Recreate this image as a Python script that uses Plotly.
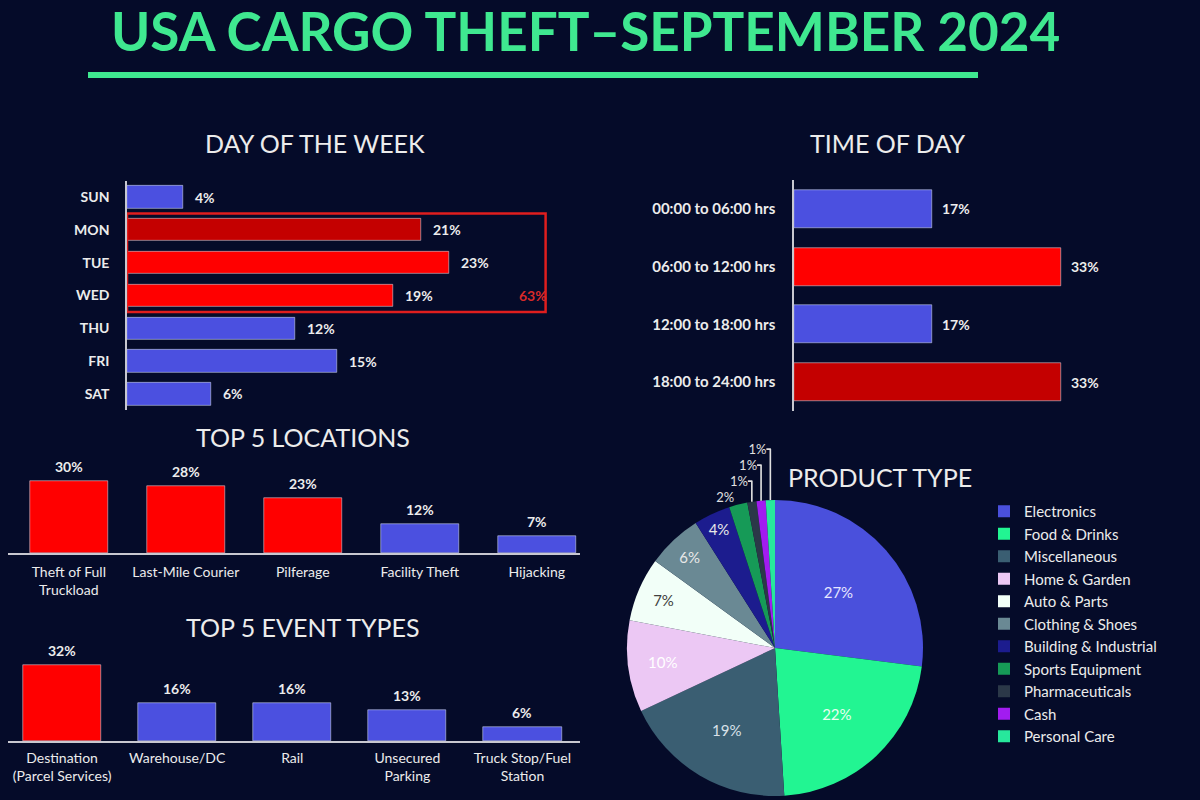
import plotly.graph_objects as go

W, H = 1200, 800

# ---------------- data ----------------
days = ["SUN", "MON", "TUE", "WED", "THU", "FRI", "SAT"]
day_vals = [4, 21, 23, 19, 12, 15, 6]

times = ["00:00 to 06:00 hrs", "06:00 to 12:00 hrs", "12:00 to 18:00 hrs", "18:00 to 24:00 hrs"]
time_vals = [17, 33, 17, 33]

locations = ["Theft of Full<br>Truckload", "Last-Mile Courier", "Pilferage", "Facility Theft", "Hijacking"]
loc_vals = [30, 28, 23, 12, 7]

events = ["Destination<br>(Parcel Services)", "Warehouse/DC", "Rail", "Unsecured<br>Parking", "Truck Stop/Fuel<br>Station"]
event_vals = [32, 16, 16, 13, 6]

products = ["Electronics", "Food & Drinks", "Miscellaneous", "Home & Garden", "Auto & Parts",
            "Clothing & Shoes", "Building & Industrial", "Sports Equipment", "Pharmaceuticals",
            "Cash", "Personal Care"]
product_vals = [27, 22, 19, 10, 7, 6, 4, 2, 1, 1, 1]

# ---------------- styles ----------------
BG = "#050b29"
BLUE = "#4b50e0"
RED = "#ff0000"
DRED = "#c40000"
GREEN = "#3fe890"
TXT = "#ececec"
FONT = "Lato"

day_colors = [BLUE, DRED, RED, RED, BLUE, BLUE, BLUE]
time_colors = [BLUE, RED, BLUE, DRED]
loc_colors = [RED, RED, RED, BLUE, BLUE]
event_colors = [RED, BLUE, BLUE, BLUE, BLUE]
product_colors = ["#4a50dc", "#22f592", "#3a5e72", "#ecc8f4", "#f2fff8", "#6a8994",
                  "#1c1c8e", "#169a57", "#2b3848", "#a21cf0", "#27e89c"]
product_text_colors = ["#e6e6ff", "#e8fff0", "#d8e0e8", "#ffffff", "#404040", "#e8e8e8",
                       "#e8e8e8", "#e8e8e8", "#e8e8e8", "#e8e8e8", "#e8e8e8"]
product_textpos = ["inside"] * 7 + ["outside"] * 4


def px(x):
    return x / W


def py(y):
    return 1 - y / H


fig = go.Figure()

fig.add_trace(go.Bar(x=day_vals, y=days, orientation="h", marker_color=day_colors,
                     width=0.68, xaxis="x", yaxis="y", hoverinfo="skip", showlegend=False))
fig.add_trace(go.Bar(x=time_vals, y=times, orientation="h", marker_color=time_colors,
                     width=0.66, xaxis="x2", yaxis="y2", hoverinfo="skip", showlegend=False))
fig.add_trace(go.Bar(x=locations, y=loc_vals, marker_color=loc_colors,
                     width=0.67, xaxis="x3", yaxis="y3", hoverinfo="skip", showlegend=False))
fig.add_trace(go.Bar(x=events, y=event_vals, marker_color=event_colors,
                     width=0.68, xaxis="x4", yaxis="y4", hoverinfo="skip", showlegend=False))

fig.add_trace(go.Pie(labels=products, values=product_vals, sort=False, direction="clockwise",
                     rotation=0, marker=dict(colors=product_colors, line=dict(width=0)),
                     text=[f"{v}%" for v in product_vals], textinfo="text",
                     textposition=product_textpos, insidetextorientation="horizontal",
                     textfont=dict(family=FONT, size=15, color=product_text_colors),
                     outsidetextfont=dict(family=FONT, size=13, color="#e0e0e0"),
                     domain=dict(x=[px(775 - 148), px(775 + 148)], y=[py(796), py(500)]),
                     hoverinfo="skip", showlegend=True))

annotations = []
lab_font = dict(family=FONT, size=14, color=TXT, weight="bold")
for d, v in zip(days, day_vals):
    annotations.append(dict(x=v, y=d, xref="x", yref="y", text=f"{v}%", showarrow=False,
                            xanchor="left", yanchor="middle", xshift=10, font=lab_font))
for t, v in zip(times, time_vals):
    annotations.append(dict(x=v, y=t, xref="x2", yref="y2", text=f"{v}%", showarrow=False,
                            xanchor="left", yanchor="middle", xshift=8, font=lab_font))
for c, v in zip(locations, loc_vals):
    annotations.append(dict(x=c, y=v, xref="x3", yref="y3", text=f"{v}%", showarrow=False,
                            xanchor="center", yanchor="bottom", yshift=4, font=lab_font))
for c, v in zip(events, event_vals):
    annotations.append(dict(x=c, y=v, xref="x4", yref="y4", text=f"{v}%", showarrow=False,
                            xanchor="center", yanchor="bottom", yshift=4, font=lab_font))

annotations.append(dict(x=29.9, y=days[3], xref="x", yref="y", text=f"<b>{sum(day_vals[1:4])}%</b>",
                        showarrow=False, xanchor="center", yanchor="middle", xshift=-13,
                        font=dict(family=FONT, size=14, color="#d82a2a")))

annotations.append(dict(x=px(585), y=py(31), xref="paper", yref="paper",
                        xanchor="center", yanchor="middle",
                        text="<b>USA CARGO THEFT–SEPTEMBER 2024</b>", showarrow=False,
                        font=dict(family=FONT, size=53, color=GREEN)))
for txt, x, y in [("DAY OF THE WEEK", 315, 143), ("TIME OF DAY", 887, 143),
                  ("TOP 5 LOCATIONS", 303, 437), ("TOP 5 EVENT TYPES", 303, 627),
                  ("PRODUCT TYPE", 880, 477)]:
    annotations.append(dict(x=px(x), y=py(y), xref="paper", yref="paper", text=txt,
                            xanchor="center", yanchor="middle",
                            showarrow=False, font=dict(family=FONT, size=25, color=TXT)))

shapes = [
    dict(type="line", xref="paper", yref="paper", x0=px(88), x1=px(978), y0=py(75), y1=py(75),
         line=dict(color=GREEN, width=6)),
    dict(type="rect", xref="x", yref="y", x0=0, x1=29.9, y0=0.5, y1=3.5,
         line=dict(color="#e01e1e", width=2.5)),
]

hidden = dict(showgrid=False, zeroline=False, showticklabels=False, showline=False, fixedrange=True)
axline = "#c8c8d0"

fig.update_layout(
    width=W, height=H, paper_bgcolor=BG, plot_bgcolor=BG,
    margin=dict(l=0, r=0, t=0, b=0, autoexpand=False), showlegend=True, bargap=0,
    font=dict(family=FONT, color=TXT),
    xaxis=dict(domain=[px(127), px(560)], range=[0, 433 / 14], anchor="y", **hidden),
    yaxis=dict(domain=[py(410.4), py(180.6)], range=[6.5, -0.5], type="category",
               categoryorder="array", categoryarray=days, anchor="x",
               showline=True, linecolor=axline, linewidth=1.5, showgrid=False, zeroline=False,
               ticks="", ticklabelstandoff=13,
               tickfont=dict(family=FONT, size=14, color=TXT, weight="bold"), fixedrange=True),
    xaxis2=dict(domain=[px(794), px(1180)], range=[0, 386 / 8.1], anchor="y2", **hidden),
    yaxis2=dict(domain=[py(411), py(180)], range=[3.5, -0.5], type="category",
                categoryorder="array", categoryarray=times, anchor="x2",
                showline=True, linecolor=axline, linewidth=1.5, showgrid=False, zeroline=False,
                ticks="", ticklabelstandoff=14,
                tickfont=dict(family=FONT, size=15, color=TXT, weight="bold"), fixedrange=True),
    xaxis3=dict(domain=[px(8), px(580)], range=[-0.52, 4.37], type="category",
                categoryorder="array", categoryarray=locations, anchor="y3",
                showline=True, linecolor=axline, linewidth=1.5, showgrid=False, zeroline=False,
                ticks="", ticklabelstandoff=5,
                tickfont=dict(family=FONT, size=14, color=TXT), fixedrange=True),
    yaxis3=dict(domain=[py(553), py(460)], range=[0, 93 / 2.4], anchor="x3", **hidden),
    xaxis4=dict(domain=[px(8), px(580)], range=[-0.47, 4.5], type="category",
                categoryorder="array", categoryarray=events, anchor="y4",
                showline=True, linecolor=axline, linewidth=1.5, showgrid=False, zeroline=False,
                ticks="", ticklabelstandoff=3,
                tickfont=dict(family=FONT, size=14, color=TXT), fixedrange=True),
    yaxis4=dict(domain=[py(741), py(650)], range=[0, 91 / 2.375], anchor="x4", **hidden),
    legend=dict(x=px(984), y=py(495), xanchor="left", yanchor="top", bgcolor="rgba(0,0,0,0)",
                font=dict(family=FONT, size=15, color=TXT), itemwidth=30, tracegroupgap=0),
    annotations=annotations, shapes=shapes,
)

fig.write_html("out.html", config={"displayModeBar": False},
               post_script="document.body.style.margin='0';document.body.style.background='" + BG + "';")
